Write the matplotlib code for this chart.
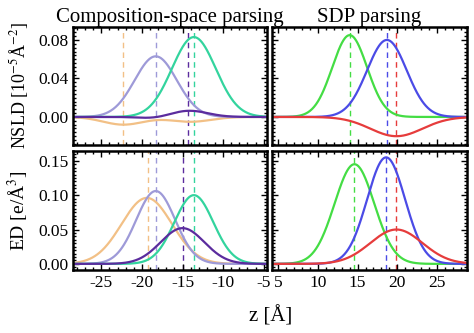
import numpy as np
import matplotlib.pyplot as plt
from matplotlib.ticker import MultipleLocator, AutoMinorLocator

plt.rcParams['font.family'] = ['Liberation Serif', 'DejaVu Serif']
plt.rcParams['mathtext.fontset'] = 'stix'
plt.rcParams['axes.unicode_minus'] = False

# gaussian groups: (center, amplitude, width) per component
# composition-space parsing, NSLD
nsld_cs_orange = [(-22.3, -0.008, 2.5), (-14.0, -0.005, 2.5)]
nsld_cs_lavender = [(-18.3, 0.063, 2.6)]
nsld_cs_teal = [(-13.6, 0.083, 2.7)]
nsld_cs_purple = [(-14.2, 0.0065, 2.3), (-18.5, -0.0015, 1.8)]
nsld_cs_marks = [-22.3, -18.3, -13.6, -14.3]

# composition-space parsing, ED
ed_cs_orange = [(-19.4, 0.096, 3.1)]
ed_cs_lavender = [(-18.3, 0.106, 2.4)]
ed_cs_teal = [(-13.6, 0.100, 2.4)]
ed_cs_purple = [(-15.0, 0.052, 2.7)]
ed_cs_marks = [-19.2, -18.3, -13.6, -15.0]

# SDP parsing
nsld_sdp_green = [(14.0, 0.085, 2.2)]
nsld_sdp_blue = [(18.7, 0.080, 2.5)]
nsld_sdp_red = [(19.9, -0.020, 3.3)]
nsld_sdp_marks = [14.0, 18.7, 19.9]

ed_sdp_green = [(14.6, 0.145, 2.5)]
ed_sdp_blue = [(18.6, 0.155, 2.4)]
ed_sdp_red = [(19.9, 0.050, 3.3)]
ed_sdp_marks = [14.6, 18.6, 19.8]

cs_colors = ['#f2c086', '#9e9ad8', '#33d49e', '#5b2c9e']
sdp_colors = ['#44dd44', '#4b4be6', '#e63c3c']


def profile(z, comps):
    y = np.zeros_like(z)
    for c, a, w in comps:
        y += a * np.exp(-(z - c) ** 2 / (2 * w ** 2))
    return y


fig = plt.figure(figsize=(4.74, 3.33), dpi=100)
ax_tl = fig.add_axes([0.154, 0.565, 0.409, 0.354])
ax_tr = fig.add_axes([0.574, 0.565, 0.411, 0.354])
ax_bl = fig.add_axes([0.154, 0.189, 0.409, 0.357])
ax_br = fig.add_axes([0.574, 0.189, 0.411, 0.357])

z_left = np.linspace(-28.5, -4.6, 400)
z_right = np.linspace(4.2, 28.8, 400)

panels = [
    (ax_tl, z_left, [nsld_cs_orange, nsld_cs_lavender, nsld_cs_teal, nsld_cs_purple], nsld_cs_marks, cs_colors),
    (ax_bl, z_left, [ed_cs_orange, ed_cs_lavender, ed_cs_teal, ed_cs_purple], ed_cs_marks, cs_colors),
    (ax_tr, z_right, [nsld_sdp_green, nsld_sdp_blue, nsld_sdp_red], nsld_sdp_marks, sdp_colors),
    (ax_br, z_right, [ed_sdp_green, ed_sdp_blue, ed_sdp_red], ed_sdp_marks, sdp_colors),
]

for ax, z, groups, marks, colors in panels:
    for comps, m, col in zip(groups, marks, colors):
        ax.axvline(m, color=col, lw=1.0, ls=(0, (4, 3)), zorder=1)
        ax.plot(z, profile(z, comps), color=col, lw=1.6, zorder=2)
    ax.set_xlim(z[0], z[-1])
    ax.xaxis.set_major_locator(MultipleLocator(5))
    ax.xaxis.set_minor_locator(MultipleLocator(1))
    ax.yaxis.set_minor_locator(AutoMinorLocator(10))
    ax.tick_params(which='both', direction='in', top=True, right=True, width=1.0,
                   labelsize=12.5)
    ax.tick_params(which='major', length=4)
    ax.tick_params(which='minor', length=2)
    for s in ax.spines.values():
        s.set_linewidth(1.8)

for ax in (ax_tl, ax_tr):
    ax.set_ylim(-0.029, 0.0935)
    ax.yaxis.set_major_locator(MultipleLocator(0.04))
    ax.tick_params(labelbottom=False)
for ax in (ax_bl, ax_br):
    ax.set_ylim(-0.009, 0.164)
    ax.yaxis.set_major_locator(MultipleLocator(0.05))
for ax in (ax_tr, ax_br):
    ax.tick_params(labelleft=False)

ax_tl.yaxis.set_major_formatter('{x:.2f}')
ax_bl.yaxis.set_major_formatter('{x:.2f}')
ax_bl.xaxis.set_major_formatter('{x:.0f}')
ax_br.xaxis.set_major_formatter('{x:.0f}')

ax_tl.set_title('Composition-space parsing', fontsize=15, pad=2)
ax_tr.set_title('SDP parsing', fontsize=15, pad=2)
ax_tl.set_ylabel('NSLD [10$^{-5}$Å$^{-2}$]', fontsize=13, labelpad=6)
ax_bl.set_ylabel('ED [e/Å$^{3}$]', fontsize=14, labelpad=5)
fig.text(0.57, 0.035, 'z [Å]', fontsize=15, ha='center')

fig.savefig('out.png', dpi=100)
